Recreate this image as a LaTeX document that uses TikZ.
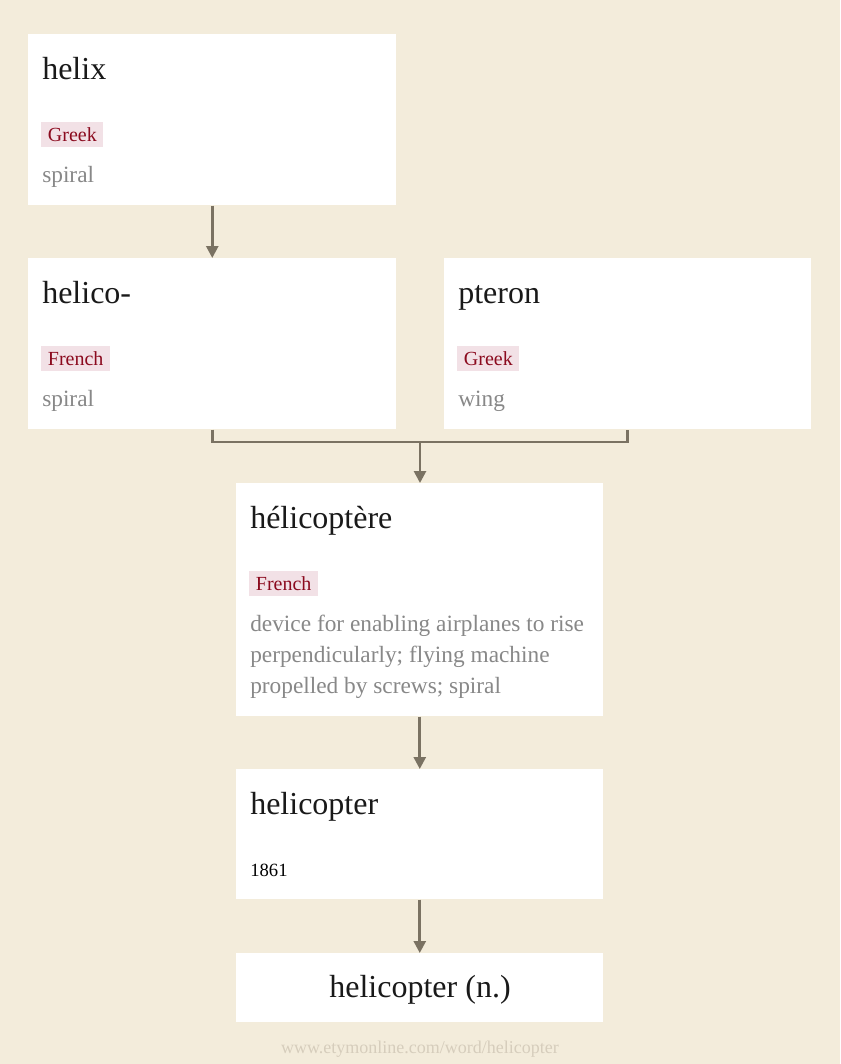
\documentclass[tikz,border=0pt]{standalone}
\usepackage{fontspec}
\setmainfont{Liberation Serif}
\usepackage{xcolor}
\usetikzlibrary{arrows.meta}
\usetikzlibrary{positioning}

\definecolor{bgcol}{HTML}{F3ECDB}
\definecolor{linkcol}{HTML}{7A7262}
\definecolor{tagbg}{HTML}{F2E1E6}
\definecolor{tagfg}{HTML}{8B0A1E}
\definecolor{glosscol}{HTML}{888888}
\definecolor{urlcol}{HTML}{D6CDBC}

\tikzset{
  wordbox/.style={fill=white, draw=none, anchor=north west, inner sep=0pt},
  headword/.style={anchor=base west, inner sep=0pt, text=black!90,
    font=\fontsize{24}{28}\selectfont},
  langtag/.style={anchor=base west, fill=tagbg, text=tagfg, inner xsep=5pt,
    inner ysep=0pt, text height=14.25pt, text depth=4.5pt,
    font=\fontsize{15}{18}\selectfont},
  gloss/.style={anchor=base west, inner sep=0pt, text=glosscol, align=left,
    font=\fontsize{17.5}{23.25}\selectfont},
  conn/.style={draw=linkcol, line width=2pt},
  arr/.style={conn, -{Triangle[width=9pt,length=9pt]}}
}

\begin{document}
\begin{tikzpicture}[x=0.75pt, y=-0.75pt]
% Hintergrund, Koordinaten in Pixeln
\fill[bgcol] (0,0) rectangle (840,1064);
\useasboundingbox (0,0) rectangle (840,1064);

% Kaesten
\node[wordbox, minimum width=276pt, minimum height=128.25pt] (helix) at (28,34) {};
\node[wordbox, minimum width=276pt, minimum height=128.25pt] (helico) at (28,258) {};
\node[wordbox, minimum width=275.25pt, minimum height=128.25pt] (pteron) at (444,258) {};
\node[wordbox, minimum width=275.25pt, minimum height=174.75pt] (helicoptere) at (236,483) {};
\node[wordbox, minimum width=275.25pt, minimum height=97.5pt] (helicopter) at (236,769) {};
\node[wordbox, minimum width=275.25pt, minimum height=51.75pt] (noun) at (236,953) {};

% Texte
\node[headword] (helixword) at (42,79) {helix};
\node[langtag] (helixlang) at (41,141) {Greek};
\node[gloss] (helixgloss) at (42,182) {spiral};

\node[headword] (helicoword) at (42,303) {helico-};
\node[langtag] (helicolang) at (41,365) {French};
\node[gloss] (helicogloss) at (42,406) {spiral};

\node[headword] (pteronword) at (458,303) {pteron};
\node[langtag] (pteronlang) at (457,365) {Greek};
\node[gloss] (pterongloss) at (458,406) {wing};

\node[headword] (helicopterew) at (250,528) {hélicoptère};
\node[langtag] (helicopterelang) at (249,590) {French};
% base = Grundlinie der letzten Zeile
\node[gloss] (helicopteregloss) at (250,693) {device for enabling airplanes to rise\\
  perpendicularly; flying machine\\propelled by screws; spiral};

\node[headword] (helicopterw) at (250,814) {helicopter};
\node[anchor=base west, inner sep=0pt, font=\fontsize{14}{16}\selectfont] (helicopteryear) at (250,876) {1861};

\node[headword, anchor=base] (nounword) at (420,997) {helicopter (n.)};

\node[anchor=base, inner sep=0pt, text=urlcol, font=\fontsize{13.5}{16}\selectfont] (url) at (420,1053) {www.etymonline.com/word/helicopter};

% Verbindungen
\coordinate (join) at (420,442);
\draw[arr] (helix.south) -- (helico.north);
\draw[conn] (helico.south) |- (join) -| (pteron.south);
\draw[arr] (join) -- (join |- helicoptere.north);
\draw[arr] (helicoptere.south) -- (helicopter.north);
\draw[arr] (helicopter.south) -- (noun.north);
\end{tikzpicture}
\end{document}
